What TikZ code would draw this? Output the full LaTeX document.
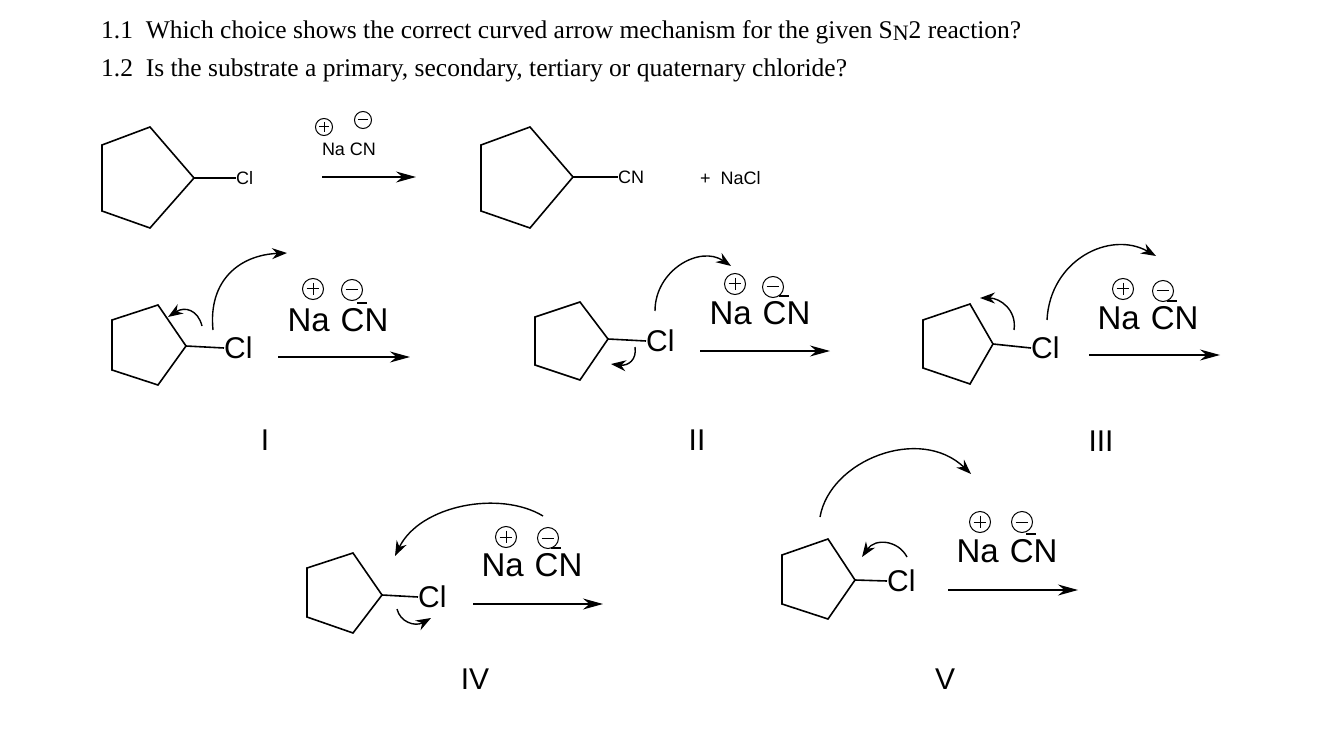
\documentclass[tikz,border=0pt]{standalone}
\usepackage{fontspec}
\setmainfont{Liberation Serif}
\setsansfont{Liberation Sans}
\usetikzlibrary{arrows.meta,calc}
\tikzset{
 bond/.style={line width=1.6pt, line join=miter},
 rxn/.style={line width=1.4pt, -{Stealth[length=20pt,width=11pt]}},
 cur/.style={line width=1.4pt, -{Stealth[length=15pt,width=11pt]}},
 atomL/.style={font=\sffamily\fontsize{30}{32}\selectfont, inner sep=0pt, anchor=west},
 atomS/.style={font=\sffamily\fontsize{18}{20}\selectfont, inner sep=0pt, anchor=west},
 reag/.style={font=\sffamily\fontsize{33}{35}\selectfont, inner sep=0pt},
 roman/.style={font=\sffamily\fontsize{30}{32}\selectfont, inner sep=0pt},
 q/.style={font=\fontsize{25.5}{27}\selectfont, inner sep=0pt, anchor=west},
 chg/.style={circle, draw, line width=1pt, minimum size=#1, inner sep=0pt},
}
\newcommand\plusat[3]{\node[chg=#3] (#1) at #2 {}; \draw[line width=1pt] ($(#1)+(-0.3*#3,0)$) -- ($(#1)+(0.3*#3,0)$) ($(#1)+(0,-0.3*#3)$) -- ($(#1)+(0,0.3*#3)$);}
\newcommand\minusat[3]{\node[chg=#3] (#1) at #2 {}; \draw[line width=1pt] ($(#1)+(-0.3*#3,0)$) -- ($(#1)+(0.3*#3,0)$);}
\newcommand\lp[2]{\coordinate (#1) at #2; \draw[line width=1.3pt] ($(#1)+(-5,0)$) -- ($(#1)+(5,0)$);}
\begin{document}
\begin{tikzpicture}[x=1pt,y=-1pt]
\useasboundingbox (0,0) rectangle (1330,751);
\fill[white] (0,0) rectangle (1330,751);
% questions
\node[q] (q1) at (101,32) {1.1\ \ Which choice shows the correct curved arrow mechanism for the given S\raisebox{-2pt}{\fontsize{22}{22}\selectfont N}2 reaction?};
\node[q] (q2) at (101,70) {1.2\ \ Is the substrate a primary, secondary, tertiary or quaternary chloride?};
% top reaction
\draw[bond] (102,145) -- (150,127) -- (194,178) -- (150,228) -- (102,211) -- cycle;
\coordinate (t1) at (194,178);
\node[atomS] (tcl) at (236,178) {Cl};
\draw[bond] (t1) -- (tcl.west);
\node[atomS, anchor=center] (tna) at (349,149) {Na\ CN};
\plusat{tp}{(324,127)}{17}
\minusat{tm}{(363,120)}{17}
\coordinate (ta1) at (322,177); \coordinate (ta2) at (416,177);
\draw[rxn] (ta1) -- (ta2);
\draw[bond] (481,145) -- (530,127) -- (573,177) -- (530,228) -- (481,211) -- cycle;
\coordinate (t2) at (573,177);
\node[atomS] (tcn) at (618,177) {CN};
\draw[bond] (t2) -- (tcn.west);
\node[atomS] (nacl) at (700,178) {+\ \ NaCl};
% ---------- panel I
\draw[bond] (112,320) -- (158,305) -- (186,346) -- (158,385) -- (112,370) -- cycle;
\coordinate (c1) at (186,346);
\node[atomL] (cl1) at (224,348) {Cl};
\draw[bond] (c1) -- (cl1.west);
\node[reag] (na1) at (338,320) {Na\,\,CN};
\lp{lp1}{(362,303)}
\plusat{p1}{(313,289)}{21}
\minusat{m1}{(352,290)}{21}
\coordinate (a1s) at (278,357); \coordinate (a1e) at (410,357);
\draw[rxn] (a1s) -- (a1e);
\coordinate (b1s) at (213,330); \coordinate (b1e) at (287,253);
\draw[cur] (b1s) .. controls (208,280) and (240,255) .. (b1e);
\coordinate (s1s) at (202,326); \coordinate (s1e) at (168,317);
\draw[cur] (s1s) .. controls (198,310) and (185,306) .. (s1e);
\node[roman] (L1) at (265,440) {I};
% ---------- panel II
\draw[bond] (535,317) -- (580,302) -- (608,339) -- (580,380) -- (535,365) -- cycle;
\coordinate (c2) at (608,339);
\node[atomL] (cl2) at (646,341) {Cl};
\draw[bond] (c2) -- (cl2.west);
\node[reag] (na2) at (760,313) {Na\,\,CN};
\lp{lp2}{(784,296)}
\plusat{p2}{(735,284)}{21}
\minusat{m2}{(773,287)}{21}
\coordinate (a2s) at (700,351); \coordinate (a2e) at (830,351);
\draw[rxn] (a2s) -- (a2e);
\coordinate (b2s) at (655,311); \coordinate (b2e) at (731,266);
\draw[cur] (b2s) .. controls (655,270) and (700,245) .. (b2e);
\coordinate (s2s) at (635,347); \coordinate (s2e) at (611,364);
\draw[cur] (s2s) .. controls (637,360) and (628,366) .. (s2e);
\node[roman] (L2) at (697,440) {II};
% ---------- panel III
\draw[bond] (923,320) -- (970,304) -- (993,344) -- (970,384) -- (923,368) -- cycle;
\coordinate (c3) at (993,344);
\node[atomL] (cl3) at (1031,348) {Cl};
\draw[bond] (c3) -- (cl3.west);
\node[reag] (na3) at (1148,318) {Na\,\,CN};
\lp{lp3}{(1172,301)}
\plusat{p3}{(1123,289)}{21}
\minusat{m3}{(1163,291)}{21}
\coordinate (a3s) at (1089,355); \coordinate (a3e) at (1220,355);
\draw[rxn] (a3s) -- (a3e);
\coordinate (b3s) at (1047,320); \coordinate (b3e) at (1156,256);
\draw[cur] (b3s) .. controls (1050,260) and (1110,230) .. (b3e);
\coordinate (s3s) at (1014,330); \coordinate (s3e) at (980,298);
\draw[cur] (s3s) .. controls (1017,310) and (1000,298) .. (s3e);
\node[roman] (L3) at (1101,441) {III};
% ---------- panel IV
\draw[bond] (307,568) -- (353,553) -- (382,595) -- (353,633) -- (307,617) -- cycle;
\coordinate (c4) at (382,595);
\node[atomL] (cl4) at (418,597) {Cl};
\draw[bond] (c4) -- (cl4.west);
\node[reag] (na4) at (532,565) {Na\,\,CN};
\lp{lp4}{(556,548)}
\plusat{p4}{(506,537)}{21}
\minusat{m4}{(548,538)}{21}
\coordinate (a4s) at (473,604); \coordinate (a4e) at (603,604);
\draw[rxn] (a4s) -- (a4e);
\coordinate (b4s) at (543,516); \coordinate (b4e) at (395,556);
\draw[cur] (b4s) .. controls (500,490) and (420,505) .. (b4e);
\coordinate (s4s) at (397,609); \coordinate (s4e) at (431,618);
\draw[cur] (s4s) .. controls (400,622) and (415,627) .. (s4e);
\node[roman] (L4) at (475,679) {IV};
% ---------- panel V
\draw[bond] (782,555) -- (828,539) -- (855,580) -- (828,619) -- (782,604) -- cycle;
\coordinate (c5) at (855,580);
\node[atomL] (cl5) at (887,581) {Cl};
\draw[bond] (c5) -- (cl5.west);
\node[reag] (na5) at (1007,551) {Na\,\,CN};
\lp{lp5}{(1031,534)}
\plusat{p5}{(980,522)}{21}
\minusat{m5}{(1022,522)}{21}
\coordinate (a5s) at (948,590); \coordinate (a5e) at (1078,590);
\draw[rxn] (a5s) -- (a5e);
\coordinate (b5s) at (820,517); \coordinate (b5e) at (971,474);
\draw[cur] (b5s) .. controls (830,460) and (920,425) .. (b5e);
\coordinate (s5s) at (907,557); \coordinate (s5e) at (862,557);
\draw[cur] (s5s) .. controls (898,540) and (875,538) .. (s5e);
\node[roman] (L5) at (945,679) {V};
\end{tikzpicture}
\end{document}
